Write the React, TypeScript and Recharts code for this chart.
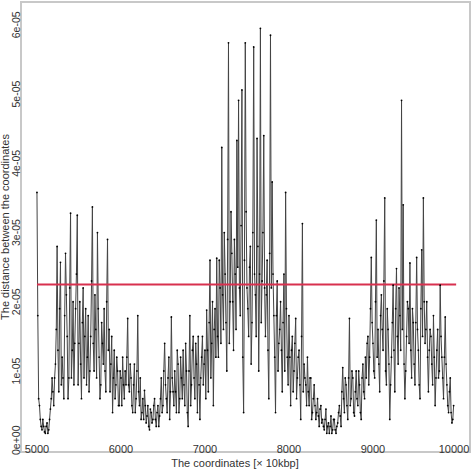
import { LineChart, Line, XAxis, YAxis, ReferenceLine, ReferenceArea, Label } from "recharts";

// distance between coordinates, in units of 1e-05, read every 20 coordinate steps from 5000
const startCoord = 5000;
const coordStep = 20;
const distance = [
  3.58, 0.6, 0.3, 0.15, 0.2, 0.1, 0.25, 0.15, 0.45, 0.9,
  0.5, 1.1, 2.8, 0.7, 2.57, 1.2, 0.6, 2.7, 1.5, 0.9,
  3.28, 1.3, 0.8, 1.9, 3.25, 1.4, 1.1, 1.7, 0.9, 1.9,
  1.2, 0.7, 1.5, 3.37, 1.0, 1.6, 3.0, 1.2, 0.8, 1.4,
  1.9, 0.7, 2.9, 1.6, 1.1, 0.4, 1.3, 0.8, 1.0, 0.5,
  0.9, 1.2, 0.6, 0.8, 1.76, 0.7, 0.9, 0.4, 1.1, 0.6,
  1.8, 0.5, 0.3, 0.6, 0.72, 0.25, 0.5, 0.15, 0.4, 0.3,
  0.6, 0.2, 0.5, 0.35, 0.9, 0.5, 1.4, 0.6, 0.9, 0.3,
  1.78, 0.7, 1.0, 0.4, 1.1, 0.6, 0.9, 1.3, 0.5, 1.0,
  0.2, 1.8, 0.8, 1.5, 0.6, 1.1, 1.5, 0.3, 1.2, 0.8,
  1.3, 1.88, 0.7, 2.6, 1.4, 0.5, 1.9, 2.63, 1.2, 2.2,
  4.23, 1.6, 2.4, 1.0, 5.74, 2.0, 2.7, 1.3, 2.4, 4.33,
  4.91, 1.8, 5.06, 0.4, 5.74, 2.2, 1.5, 2.8, 1.7, 5.68,
  2.1, 4.36, 1.0, 5.95, 2.3, 4.4, 1.5, 2.6, 0.6, 5.85,
  3.73, 1.8, 0.4, 2.3, 1.4, 2.0, 0.7, 2.4, 3.58, 1.2,
  1.8, 0.5, 1.5, 1.0, 1.76, 0.9, 1.3, 0.3, 3.13, 1.1,
  0.8, 1.2, 0.5, 0.9, 0.4, 0.8, 0.3, 0.6, 0.2, 0.5,
  0.3, 0.15, 0.45, 0.2, 0.1, 0.35, 0.15, 0.3, 0.1, 0.25,
  0.5, 0.2, 1.05, 0.4, 0.8, 0.3, 1.76, 0.6, 0.9, 0.35,
  1.0, 0.5, 0.8, 0.3, 1.1, 0.6, 0.9, 1.5, 1.2, 2.64,
  1.4, 0.9, 3.18, 1.6, 0.7, 2.1, 1.3, 3.5, 0.8, 1.6,
  0.3, 1.2, 2.24, 0.7, 2.48, 1.1, 1.8, 4.91, 3.4, 0.6,
  1.5, 1.9, 2.56, 0.9, 1.7, 0.8, 2.64, 1.3, 0.6, 2.75,
  3.5, 1.4, 2.0, 0.7, 1.6, 1.1, 1.8, 0.5, 1.3, 0.9,
  2.24, 1.2, 0.6, 1.78, 0.8, 0.4, 0.9, 0.25, 0.5,
];
// values read halfway between the ones above (5010, 5030, ...)
const distanceMid = [
  1.8, 0.5, 0.2, 0.3, 0.12, 0.2, 0.1, 0.3, 0.6, 0.7,
  0.9, 1.6, 1.3, 1.9, 0.8, 0.9, 1.8, 2.1, 0.6, 2.2,
  0.9, 2.0, 1.4, 2.4, 0.8, 2.0, 0.6, 2.2, 1.5, 0.8,
  1.8, 1.0, 2.3, 1.4, 2.1, 0.9, 1.9, 0.6, 1.7, 1.1,
  1.0, 2.0, 1.3, 0.7, 1.5, 0.9, 0.6, 1.2, 0.5, 1.0,
  0.5, 0.8, 1.0, 1.2, 0.8, 1.1, 0.5, 0.8, 0.4, 1.0,
  0.7, 0.9, 0.4, 0.3, 0.5, 0.35, 0.2, 0.45, 0.25, 0.5,
  0.3, 0.4, 0.2, 0.6, 0.4, 1.0, 0.8, 0.4, 1.2, 0.7,
  0.9, 0.5, 0.7, 1.3, 0.4, 1.2, 0.6, 0.8, 1.4, 0.4,
  1.0, 0.5, 1.3, 0.9, 1.4, 0.4, 0.8, 0.9, 1.5, 1.1,
  0.6, 1.3, 1.7, 0.9, 2.0, 1.6, 1.2, 1.5, 2.6, 1.4,
  2.1, 3.0, 1.7, 2.9, 1.4, 3.3, 2.0, 2.9, 1.6, 2.5,
  2.2, 3.1, 1.2, 2.6, 3.3, 1.9, 2.5, 1.1, 3.0, 2.4,
  1.5, 2.8, 2.4, 1.7, 3.0, 2.2, 2.1, 1.3, 2.7, 2.2,
  2.4, 1.2, 1.8, 1.0, 1.6, 1.3, 1.7, 1.0, 1.9, 0.8,
  1.2, 1.3, 0.7, 1.4, 0.6, 1.2, 0.8, 1.5, 0.7, 0.9,
  0.5, 0.7, 0.9, 0.3, 0.6, 0.5, 0.4, 0.35, 0.45, 0.25,
  0.2, 0.3, 0.1, 0.25, 0.2, 0.1, 0.3, 0.15, 0.2, 0.4,
  0.35, 0.7, 0.6, 0.9, 0.5, 0.9, 0.5, 1.0, 0.4, 0.7,
  0.6, 1.0, 0.4, 0.9, 0.7, 1.2, 1.4, 0.8, 1.9, 1.7,
  1.0, 2.0, 1.2, 1.1, 1.8, 1.6, 2.3, 1.0, 1.9, 1.1,
  0.8, 1.7, 1.3, 1.9, 1.5, 2.2, 1.3, 1.6, 1.1, 1.0,
  2.0, 1.4, 1.3, 1.9, 1.1, 1.7, 1.6, 0.8, 1.9, 1.5,
  2.0, 1.6, 1.2, 1.3, 1.5, 0.8, 1.2, 0.9, 1.6, 1.0,
  1.5, 0.9, 1.2, 1.1, 0.5, 0.7, 0.4, 0.3,
];
const threshold = 2.25;

const xTicks = [5000, 6000, 7000, 8000, 9000, 10000];
const yTicks = [0, 1, 2, 3, 4, 5, 6];
const yTickLabels = ["0e+00", "1e-05", "2e-05", "3e-05", "4e-05", "5e-05", "6e-05"];

const xDomain = [4810, 10155];
const yDomain = [-0.17, 6.33];

// interleave the two readings into one series
const data: { coord: number; d: number }[] = [];
distance.forEach((d, i) => {
  data.push({ coord: startCoord + i * coordStep, d });
  if (i < distanceMid.length) {
    data.push({ coord: startCoord + i * coordStep + coordStep / 2, d: distanceMid[i] });
  }
});

const font = "'Liberation Sans', Arial, sans-serif";
const textColor = "#333";

const XTick = ({ x, y, payload }: any) => (
  <text x={x} y={y + 1} textAnchor="middle" fontSize={11} fontFamily={font} fill={textColor}>
    {payload.value}
  </text>
);

const YTick = ({ x, y, payload }: any) => {
  const bx = x - 1;
  return (
    <text x={bx} y={y} transform={`rotate(-90 ${bx} ${y})`} textAnchor="middle" fontSize={10.5} fontFamily={font} fill={textColor}>
      {yTickLabels[yTicks.indexOf(payload.value)]}
    </text>
  );
};

export default function App() {
  return (
    <div style={{ position: "absolute", left: 0, top: 0, width: 474, height: 471, background: "#fff" }}>
      <LineChart width={474} height={471} data={data} margin={{ top: 2, right: 4, left: 0, bottom: 0 }}>
        <XAxis
          dataKey="coord"
          type="number"
          domain={xDomain}
          ticks={xTicks}
          axisLine={false}
          tickLine={false}
          tickSize={0}
          tickMargin={0}
          height={19}
          tick={<XTick />}
          allowDataOverflow
        >
          <Label
            content={({ viewBox }: any) => (
              <text x={235} y={viewBox.y + 15} textAnchor="middle" fontSize={11} fontFamily={font} fill={textColor}>
                The coordinates [× 10kbp]
              </text>
            )}
          />
        </XAxis>
        <YAxis
          type="number"
          domain={yDomain}
          ticks={yTicks}
          axisLine={false}
          tickLine={false}
          tickSize={0}
          tickMargin={0}
          width={21}
          tick={<YTick />}
          allowDataOverflow
        >
          <Label
            content={({ viewBox }: any) => {
              const cx = 9;
              const cy = viewBox.y + viewBox.height / 2;
              return (
                <text x={cx} y={cy} transform={`rotate(-90 ${cx} ${cy})`} textAnchor="middle" fontSize={11} fontFamily={font} fill={textColor}>
                  The distance between the coordinates
                </text>
              );
            }}
          />
        </YAxis>
        <ReferenceArea x1={xDomain[0]} x2={xDomain[1]} y1={yDomain[0]} y2={yDomain[1]} fill="none" stroke="#c8c8c8" strokeWidth={2} />
        <Line
          dataKey="d"
          type="linear"
          stroke="#444"
          strokeWidth={1}
          dot={{ r: 0.9, fill: "#000", stroke: "none" }}
          isAnimationActive={false}
        />
        <ReferenceLine
          segment={[{ x: startCoord, y: threshold }, { x: 9990, y: threshold }]}
          stroke="#d8304f"
          strokeWidth={2}
        />
      </LineChart>
    </div>
  );
}
